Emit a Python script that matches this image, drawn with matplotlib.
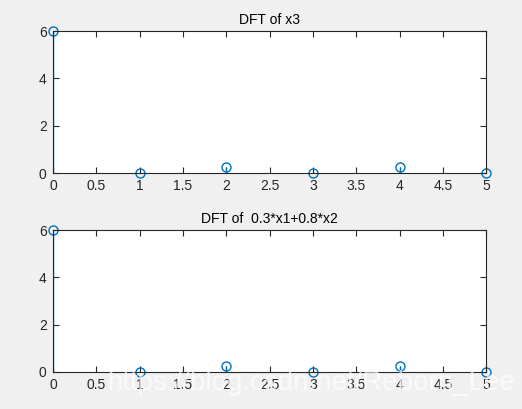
import numpy as np
import matplotlib
matplotlib.use("Agg")
import matplotlib.pyplot as plt

# values
n = [0, 1, 2, 3, 4, 5]
dft_x3 = [6, 0, 0.27, 0, 0.27, 0]
dft_mix = [6, 0, 0.27, 0, 0.27, 0]
titles = ["DFT of x3", "DFT of  0.3*x1+0.8*x2"]

blue = "#0072BD"
axcol = "#262626"

plt.rcParams["font.family"] = ["Liberation Sans", "DejaVu Sans"]

fig = plt.figure(figsize=(5.22, 4.09), dpi=100, facecolor="#f0f0f0")
positions = [[0.1015, 0.577, 0.830, 0.347], [0.1015, 0.0905, 0.830, 0.347]]

for pos, vals, title in zip(positions, [dft_x3, dft_mix], titles):
    ax = fig.add_axes(pos)
    ax.set_facecolor("white")
    ml, sl, bl = ax.stem(n, vals, basefmt=" ")
    ml.set_markerfacecolor("none")
    ml.set_markeredgecolor(blue)
    ml.set_markersize(6.5)
    ml.set_markeredgewidth(1.0)
    ml.set_clip_on(False)
    sl.set_color(blue)
    sl.set_linewidth(1.0)
    ax.set_xlim(0, 5)
    ax.set_ylim(0, 6)
    ax.set_xticks(np.arange(0, 5.01, 0.5))
    ax.set_xticklabels(["0", "0.5", "1", "1.5", "2", "2.5", "3", "3.5", "4", "4.5", "5"])
    ax.set_yticks([0, 2, 4, 6])
    ax.tick_params(direction="in", top=True, right=True, length=4, width=0.8,
                   colors=axcol, labelsize=10, pad=4.5)
    for s in ax.spines.values():
        s.set_color(axcol)
        s.set_linewidth(0.8)
    ax.set_title(title, fontsize=10, color="black", pad=5)

fig.text(0.596, 0.064, "https://blog.csdn.net/Reborn_Lee", fontsize=20,
         color="white", alpha=0.7, ha="center", va="center")

fig.savefig("out.png", dpi=100, facecolor=fig.get_facecolor())
